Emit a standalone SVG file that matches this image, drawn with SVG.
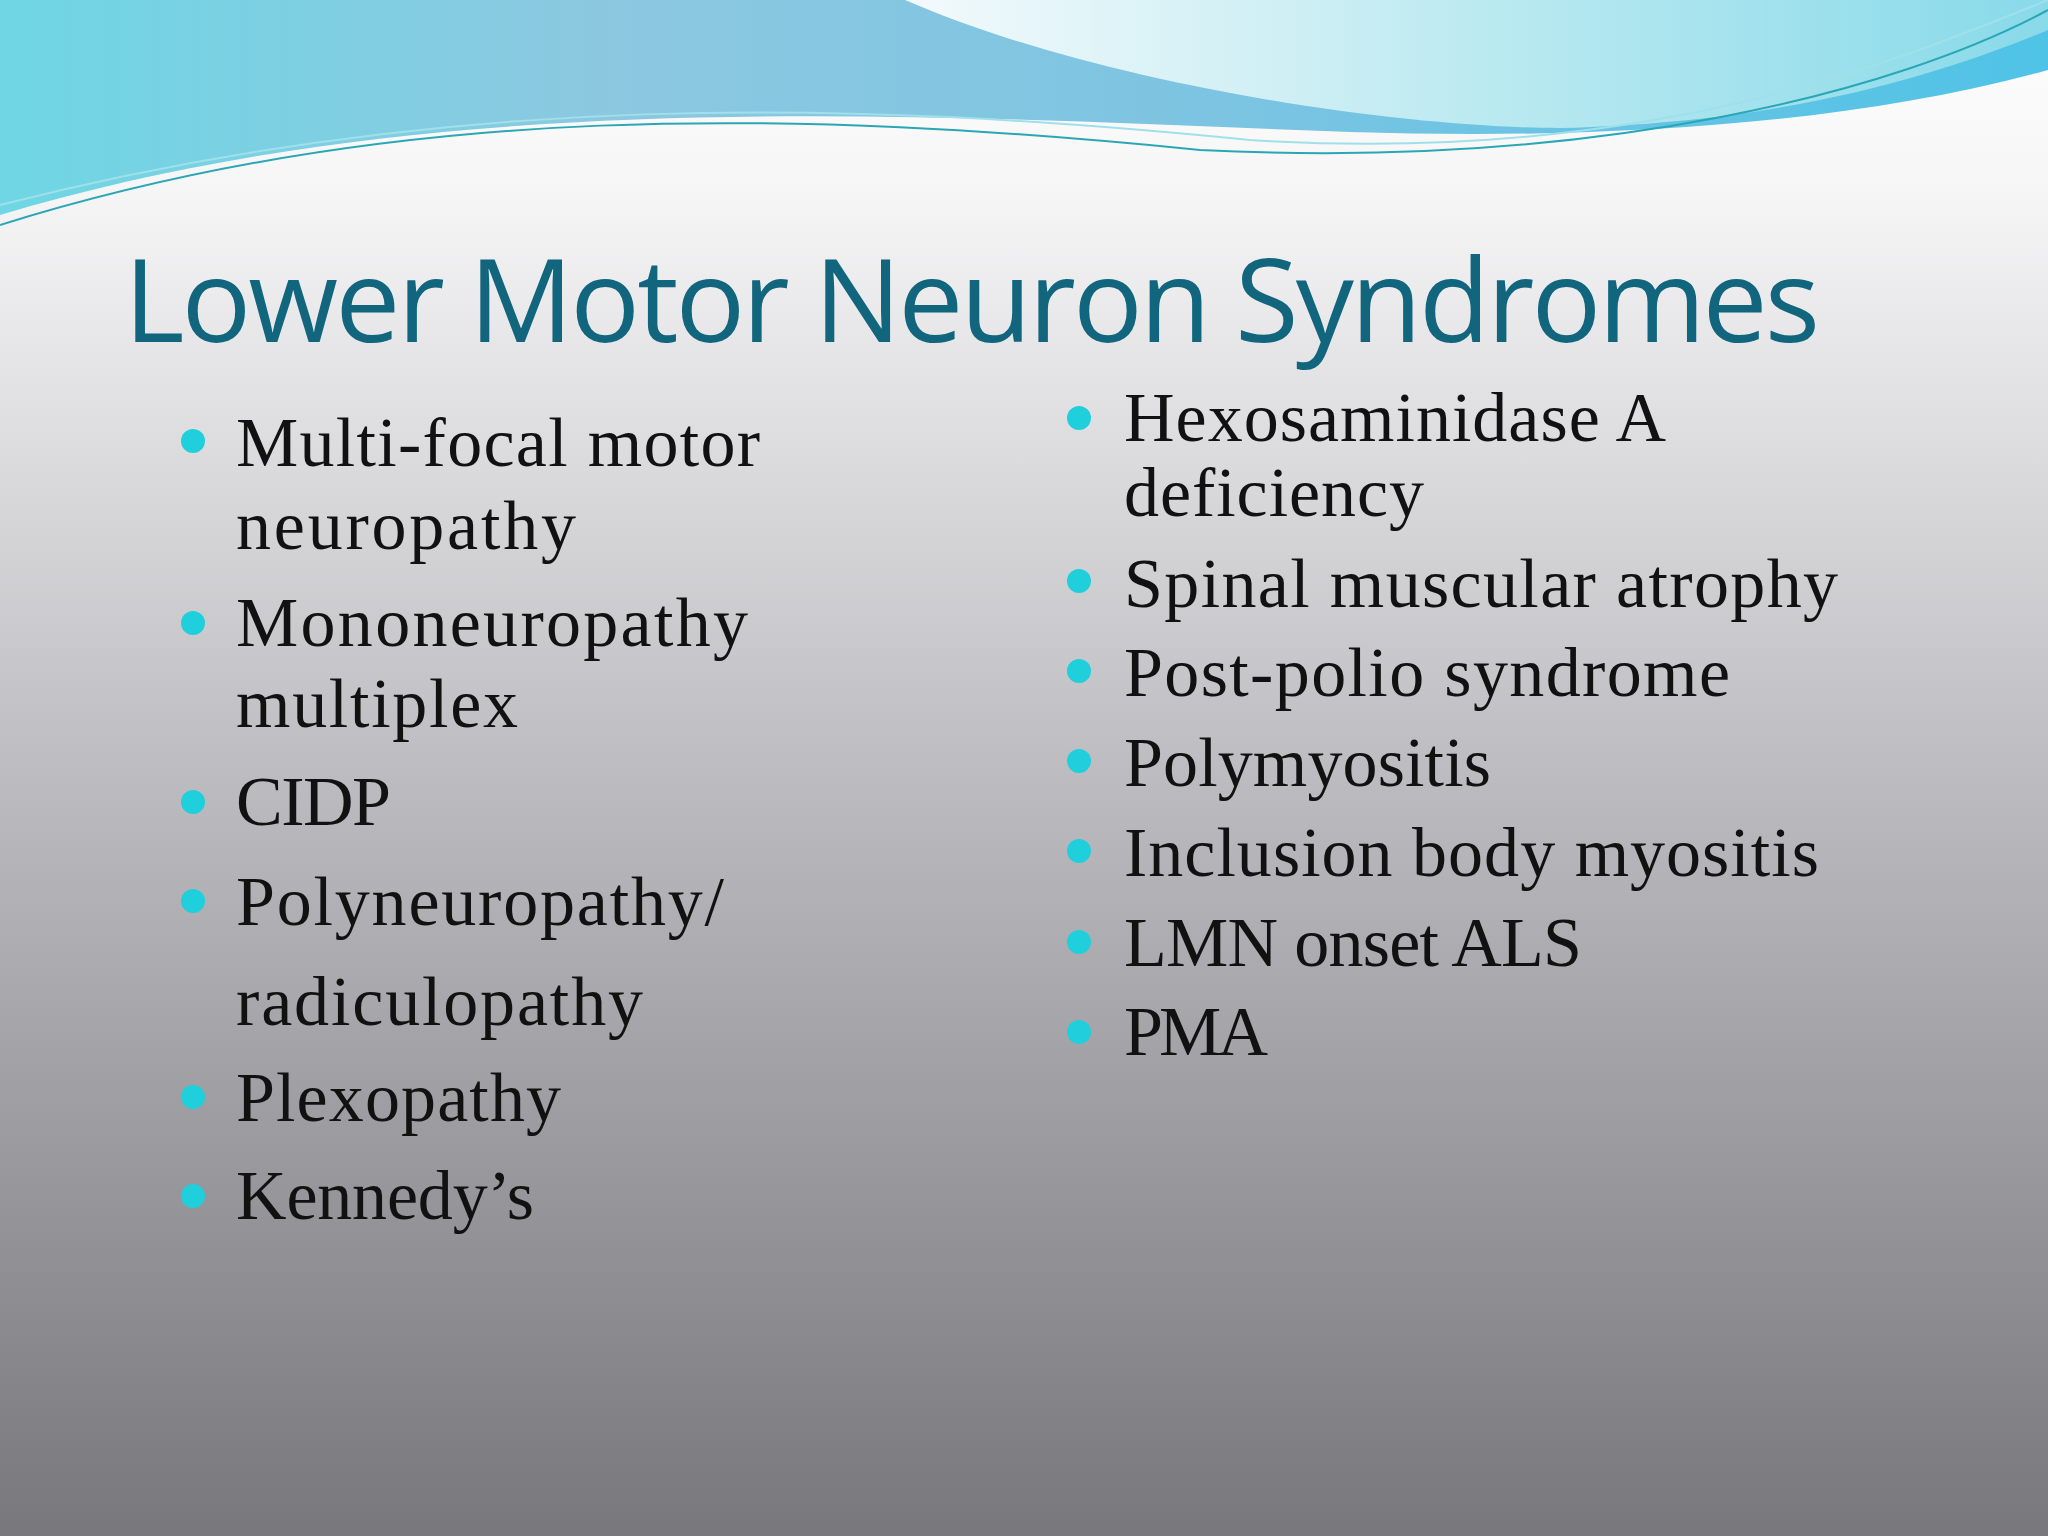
<svg xmlns="http://www.w3.org/2000/svg" width="2048" height="1536" viewBox="0 0 2048 1536">
<defs>
<linearGradient id="bg" x1="0" y1="0" x2="0" y2="1">
<stop offset="0" stop-color="#ffffff"/><stop offset="0.12" stop-color="#f6f6f7"/><stop offset="0.5" stop-color="#bdbcc0"/><stop offset="1" stop-color="#78777b"/>
</linearGradient>
<linearGradient id="wave" x1="0" y1="0" x2="1" y2="0">
<stop offset="0" stop-color="#6fd6e4"/><stop offset="0.3" stop-color="#8cc8e0"/><stop offset="0.6" stop-color="#7cc4e2"/><stop offset="1" stop-color="#4fc3e6"/>
</linearGradient>
<linearGradient id="wave2" x1="0" y1="0" x2="1" y2="0">
<stop offset="0" stop-color="#ffffff"/><stop offset="0.5" stop-color="#c4eef2"/><stop offset="1" stop-color="#8fdcea"/>
</linearGradient>
<style>
.t{font-family:"Liberation Serif",serif;font-size:70px;fill:#111}
.b{fill:#1fcfdc}
</style>
</defs>
<rect width="2048" height="1536" fill="url(#bg)"/>
<path d="M0,0 H2048 V70 C1850,125 1600,140 1350,132 C950,118 450,80 0,215 Z" fill="url(#wave)"/>
<path d="M905,0 C1100,85 1400,128 1560,128 C1800,122 1950,70 2048,30 V0 Z" fill="url(#wave2)" opacity="0.9"/>
<path d="M0,225 C400,100 800,110 1200,150 C1600,170 1900,90 2048,10" fill="none" stroke="#2aa7b5" stroke-width="2"/>
<path d="M0,205 C450,90 850,100 1250,140 C1650,165 1900,60 2048,0" fill="none" stroke="#9fe0ea" stroke-width="2"/>
<text x="124" y="342" font-family="'Open Sans','Liberation Sans',sans-serif" font-size="116" fill="#11657d" textLength="1696">Lower Motor Neuron Syndromes</text>
<g id="left">
<circle class="b" cx="193" cy="441" r="12"/><circle class="b" cx="193" cy="623" r="12"/><circle class="b" cx="193" cy="802" r="12"/><circle class="b" cx="193" cy="901" r="12"/><circle class="b" cx="193" cy="1097" r="12"/><circle class="b" cx="193" cy="1196" r="12"/>
<text class="t" x="236" y="466" textLength="524">Multi-focal motor</text>
<text class="t" x="236" y="549" textLength="340">neuropathy</text>
<text class="t" x="236" y="646" textLength="512">Mononeuropathy</text>
<text class="t" x="236" y="727" textLength="282">multiplex</text>
<text class="t" x="236" y="825" textLength="155">CIDP</text>
<text class="t" x="236" y="925" textLength="488">Polyneuropathy/</text>
<text class="t" x="236" y="1025" textLength="407">radiculopathy</text>
<text class="t" x="236" y="1121" textLength="325">Plexopathy</text>
<text class="t" x="236" y="1219" textLength="298">Kennedy’s</text>
</g>
<g id="right">
<circle class="b" cx="1079" cy="418" r="12"/><circle class="b" cx="1079" cy="581" r="12"/><circle class="b" cx="1079" cy="671" r="12"/><circle class="b" cx="1079" cy="761" r="12"/><circle class="b" cx="1079" cy="851" r="12"/><circle class="b" cx="1079" cy="942" r="12"/><circle class="b" cx="1079" cy="1032" r="12"/>
<text class="t" x="1124" y="441" textLength="542">Hexosaminidase A</text>
<text class="t" x="1124" y="516" textLength="300">deficiency</text>
<text class="t" x="1124" y="607" textLength="714">Spinal muscular atrophy</text>
<text class="t" x="1124" y="696" textLength="606">Post-polio syndrome</text>
<text class="t" x="1124" y="786" textLength="367">Polymyositis</text>
<text class="t" x="1124" y="876" textLength="695">Inclusion body myositis</text>
<text class="t" x="1124" y="966" textLength="458">LMN onset ALS</text>
<text class="t" x="1124" y="1055" textLength="144">PMA</text>
</g>
</svg>
